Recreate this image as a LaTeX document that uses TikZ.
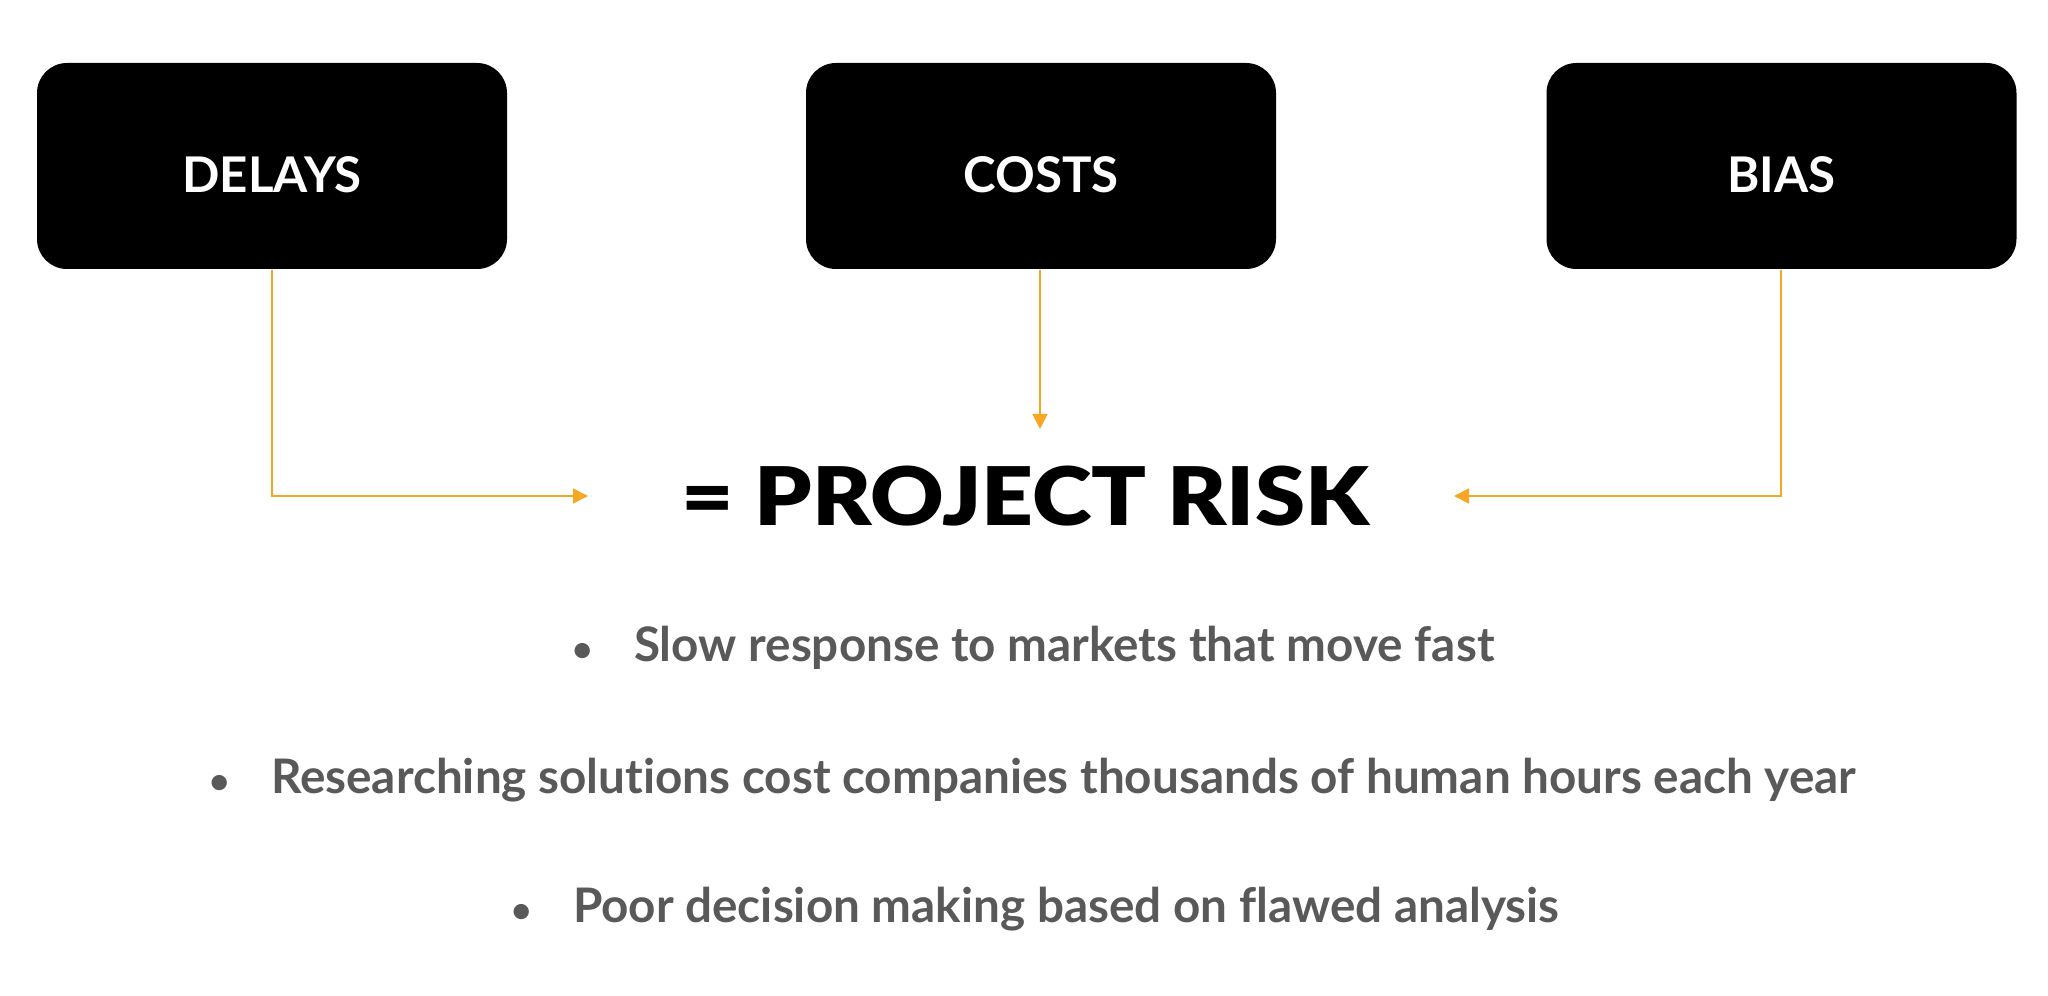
\documentclass[tikz,border=0pt]{standalone}
\usepackage{fontspec}
\setmainfont{Lato}[Ligatures=NoCommon]
\newfontfamily\heavyfont{Lato Black}[FakeStretch=1.12]
\usetikzlibrary{arrows.meta}
\definecolor{linkorange}{HTML}{F5A623}
\definecolor{itemgray}{HTML}{595959}
\newcommand\dotmark{{\fontsize{10}{10}\selectfont•}\hspace{0.86em}}
\begin{document}
\begin{tikzpicture}[
    cause/.style={fill=black, text=white, rounded corners=0.3cm,
      minimum width=4.70cm, minimum height=2.06cm, text height=0.54cm,
      text depth=0pt, font=\fontsize{14}{16}\selectfont\bfseries},
    link/.style={linkorange, line width=0.45pt,
      -{Triangle[length=1.5mm,width=1.5mm]}},
    item/.style={anchor=west, inner sep=0pt, text=itemgray,
      font=\fontsize{13.55}{16}\selectfont\bfseries}]
    \useasboundingbox (0,0) rectangle (20.48,-9.96);

    \node[cause] (delays) at (2.72,-1.66) {DELAYS}; \node[cause] (costs) at
    (10.41,-1.66) {COSTS}; \node[cause] (bias) at (17.815,-1.66) {BIAS};
    \node[inner sep=0pt, font=\heavyfont\fontsize{23}{28}\selectfont] (risk)
    at (10.25,-4.96) {= PROJECT RISK};

    \coordinate (leftend) at (5.88,-4.96); \coordinate (midend) at
    (10.40,-4.29); \coordinate (rightend) at (14.54,-4.96);

    \draw[link] (delays.south) |- (leftend); \draw[link] (costs.south -| midend)
    -- (midend); \draw[link] (bias.south -| 17.81,0) |- (rightend);

    \node[item] (item1) at (5.72,-6.48) {\dotmark Slow response to markets
    that move fast}; \node[item] (item2) at (2.09,-7.80) {\dotmark Researching
    solutions cost companies thousands of human hours each year};
    \node[item] (item3) at (5.11,-9.09) {\dotmark Poor decision making based
    on flawed analysis};
\end{tikzpicture}
\end{document}
